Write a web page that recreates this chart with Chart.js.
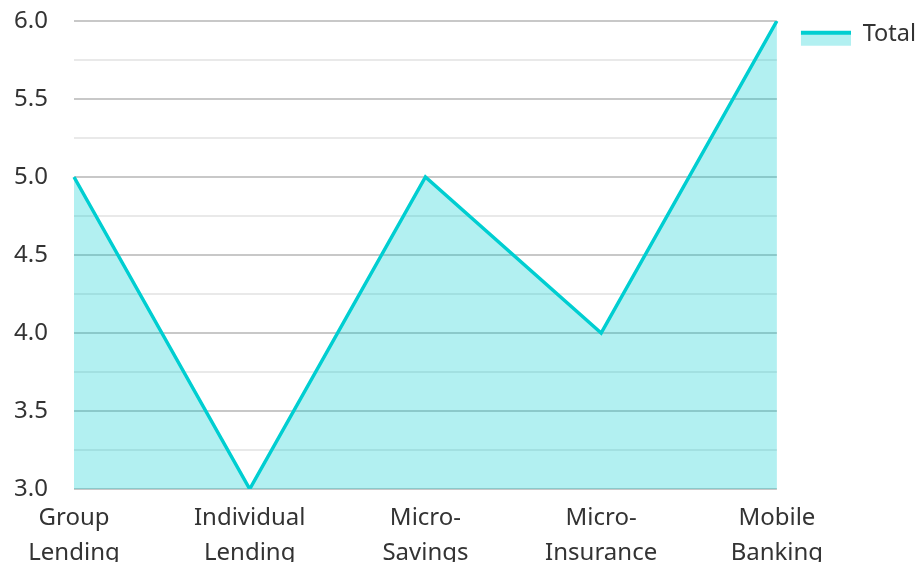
<!DOCTYPE html>
<html>
<head>
<meta charset="utf-8">
<script src="https://cdn.jsdelivr.net/npm/chart.js@4"></script>
<style>
  html, body { margin: 0; padding: 0; background: #fff; overflow: hidden; }
  #wrap { width: 917px; height: 562px; position: relative; }
</style>
</head>
<body>
<div id="wrap"><canvas id="myChart"></canvas></div>
<script>
const categories = [
  ['Group', 'Lending'],
  ['Individual', 'Lending'],
  ['Micro-', 'Savings'],
  ['Micro-', 'Insurance'],
  ['Mobile', 'Banking'],
]
const totalValues = [5, 3, 5, 4, 6]
const seriesName = 'Total'
const yMin = 3
const yMax = 6

const lineColor = 'rgb(0, 206, 209)'
const fillColor = 'rgba(0, 206, 209, 0.3)'
const textColor = '#333'
const fontFamily = '"Noto Sans", "Open Sans", sans-serif'

// legend swatch: thick line on top, fill below (transparent margin on the left)
const swatch = document.createElement('canvas')
swatch.width = 72
swatch.height = 28
const sctx = swatch.getContext('2d')
sctx.fillStyle = fillColor
sctx.fillRect(22, 13, 50, 12)
sctx.fillStyle = lineColor
sctx.fillRect(22, 10, 50, 4)

const isHalf = (v) => Number.isInteger(Math.round(v * 100) / 50)

const ctx = document.getElementById('myChart').getContext('2d')

new Chart(ctx, {
  type: 'line',
  data: {
    labels: categories,
    datasets: [
      {
        label: seriesName,
        data: totalValues,
        fill: 'start',
        backgroundColor: fillColor,
        borderColor: lineColor,
        borderWidth: 3.5,
        pointRadius: 0,
        tension: 0,
      },
    ],
  },
  options: {
    animation: false,
    responsive: true,
    maintainAspectRatio: false,
    layout: {
      padding: { left: 14, top: 21, right: -9, bottom: 0 },
    },
    plugins: {
      tooltip: { enabled: false },
      legend: {
        position: 'right',
        align: 'start',
        labels: {
          usePointStyle: true,
          pointStyleWidth: 72,
          boxHeight: 28,
          padding: 2,
          color: textColor,
          font: { family: fontFamily, size: 23.5 },
          generateLabels: () => [
            {
              text: seriesName,
              pointStyle: swatch,
              fontColor: textColor,
              lineWidth: 0,
              datasetIndex: 0,
            },
          ],
        },
      },
    },
    scales: {
      x: {
        offset: false,
        grid: { display: false, drawTicks: false },
        border: { display: false },
        ticks: {
          padding: 12,
          maxRotation: 0,
          minRotation: 0,
          autoSkip: false,
          color: textColor,
          font: { family: fontFamily, size: 24, lineHeight: 1.46 },
        },
        afterFit: (scale) => {
          scale.height = 73
          scale.paddingLeft = 0
          scale.paddingRight = 0
        },
      },
      y: {
        min: yMin,
        max: yMax,
        border: { display: false },
        grid: {
          drawTicks: false,
          lineWidth: 2,
          color: (c) => (isHalf(c.tick.value) ? '#c8c8c8' : '#e9e9e9'),
        },
        ticks: {
          stepSize: 0.25,
          padding: 26,
          color: textColor,
          font: { family: fontFamily, size: 24 },
          callback: (v) => (isHalf(v) ? v.toFixed(1) : ''),
        },
        afterFit: (scale) => {
          scale.width = 60
          scale.paddingTop = 0
          scale.paddingBottom = 0
        },
      },
    },
  },
})
</script>
</body>
</html>
